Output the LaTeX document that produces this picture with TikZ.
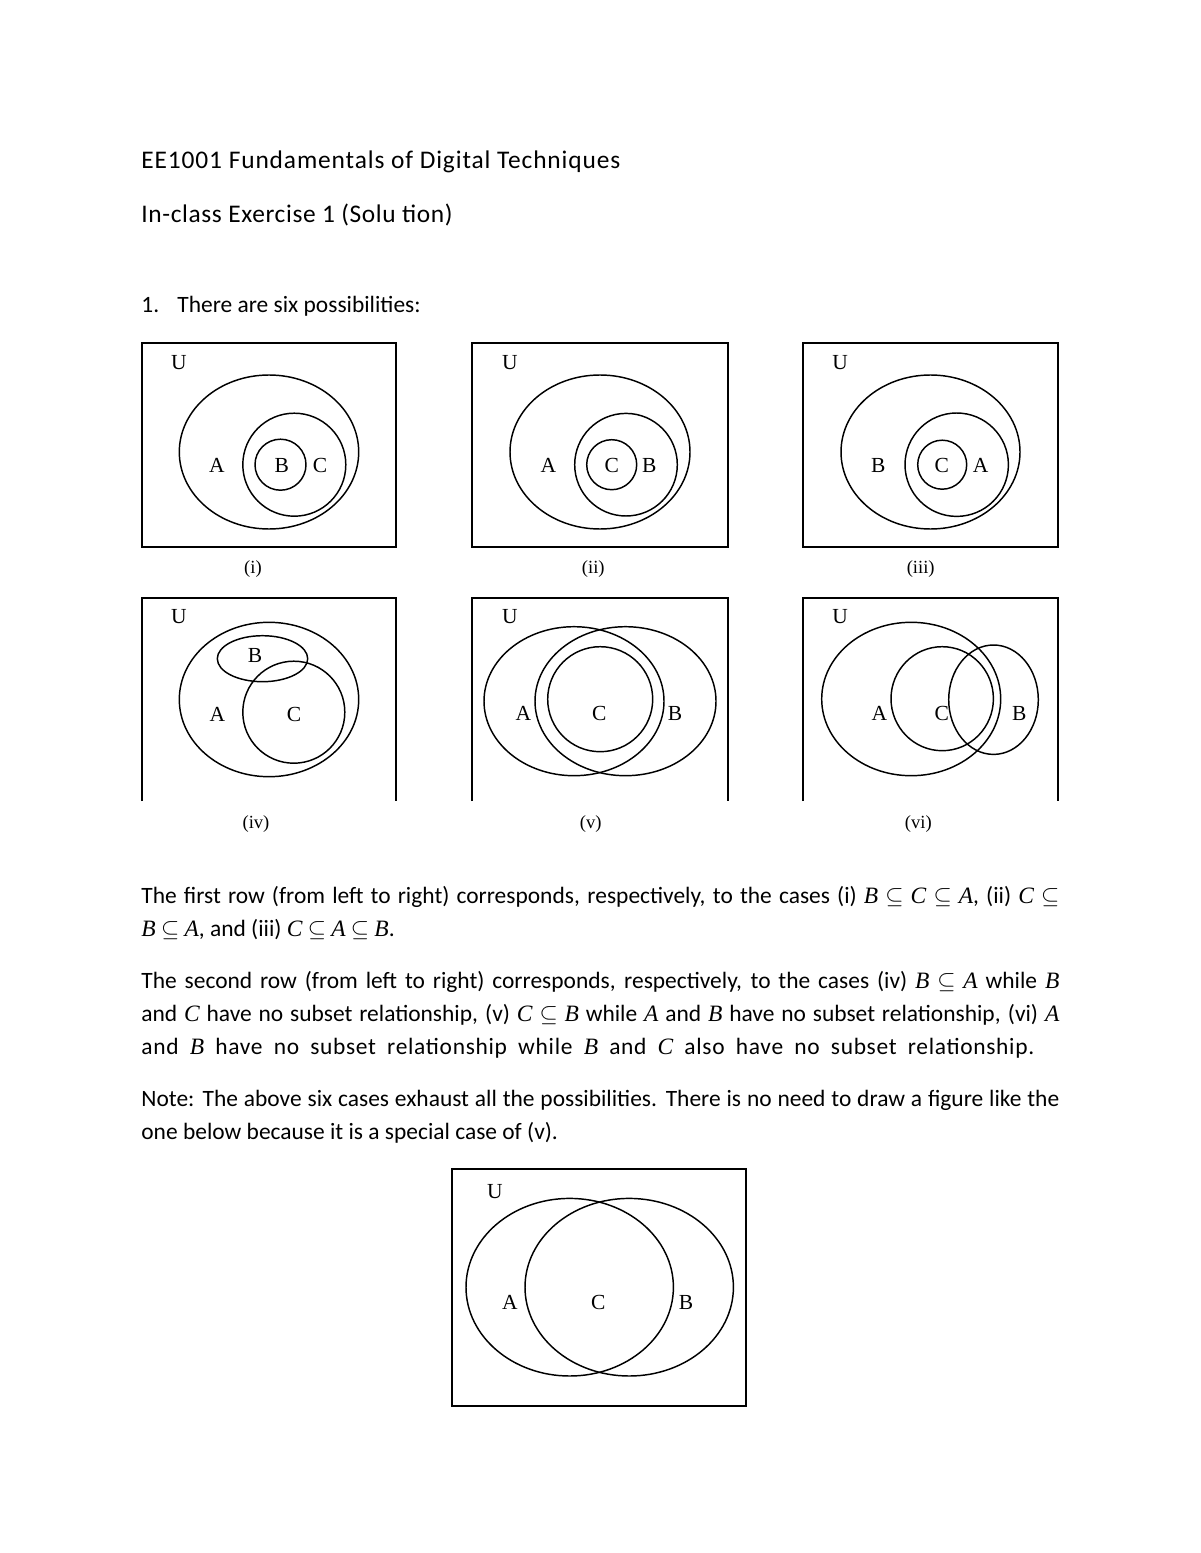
\documentclass[tikz,border=0pt]{standalone}
\usepackage{fontspec}
\setmainfont{Carlito}
\newfontfamily\ttlfont[LetterSpace=3.5]{Carlito}
\newfontfamily\subfont[LetterSpace=2.5]{Carlito}
\newfontfamily\widefont[LetterSpace=3]{Carlito}
\newfontfamily\vfont{Liberation Serif}
\newfontfamily\mfont{Liberation Serif}
\newcommand\mi[1]{{\mfont\itshape #1}}
\newcommand\sbs{$\subseteq$}
\newlength\jw
\setlength\jw{469.9pt}
\newlength\jwb
\setlength\jwb{457.1pt}
\tikzset{
  venn/.style={line width=0.75pt},
  ubox/.style={line width=0.85pt},
  lbl/.style={font=\vfont\fontsize{11}{11}\selectfont, inner sep=0pt},
  capt/.style={font=\vfont\fontsize{9.5}{10}\selectfont, inner sep=0pt},
  ttl/.style={font=\ttlfont\fontsize{13}{15}\selectfont, inner sep=0pt, anchor=base west},
  sttl/.style={font=\subfont\fontsize{13}{15}\selectfont, inner sep=0pt, anchor=base west},
  txt/.style={font=\fontsize{12}{14}\selectfont, inner sep=0pt, anchor=base west},
}
\begin{document}
\begin{tikzpicture}[x=0.5119pt,y=-0.5119pt]
\useasboundingbox (0,0) rectangle (1200,1553);
\fill[white] (0,0) rectangle (1200,1553);

% headings
\node[ttl] (title) at (141,169) {EE1001 Fundamentals of Digital Techniques};
\node[sttl] (sub) at (141,223) {In-class Exercise 1 (Solu tion)};
\node[txt] (q1n) at (141,313) {1.};
\node[txt] (q1) at (177,313) {There are six possibilities:};

% ---------- (i)
\draw[ubox] (141.7,343.3) rectangle (396,547);
\draw[venn] (269,452) ellipse [x radius=89.7, y radius=77];
\draw[venn] (294.3,464.7) circle [radius=51.5];
\draw[venn] (280.5,464.7) circle [radius=25.5];
\node[lbl] (iU) at (179,362.5) {U};
\node[lbl] (iA) at (217,465) {A};
\node[lbl] (iB) at (281.7,465) {B};
\node[lbl] (iC) at (320,465) {C};
\node[capt] (icap) at (253,569) {(i)};

% ---------- (ii)
\draw[ubox] (471.7,343.3) rectangle (728.3,547);
\draw[venn] (600,452) ellipse [x radius=90, y radius=77];
\draw[venn] (626,464.7) circle [radius=51.3];
\draw[venn] (611.7,464.7) circle [radius=25];
\node[lbl] (iiU) at (510,362.5) {U};
\node[lbl] (iiA) at (548.3,465) {A};
\node[lbl] (iiC) at (611.7,465) {C};
\node[lbl] (iiB) at (649.3,465) {B};
\node[capt] (iicap) at (593.3,569) {(ii)};

% ---------- (iii)
\draw[ubox] (803.3,343.3) rectangle (1058.3,547);
\draw[venn] (930.5,452) ellipse [x radius=89.5, y radius=77];
\draw[venn] (956.7,464.7) circle [radius=51.7];
\draw[venn] (942.2,464.7) circle [radius=24.5];
\node[lbl] (iiiU) at (840,362.5) {U};
\node[lbl] (iiiB) at (878.3,465) {B};
\node[lbl] (iiiC) at (941.7,465) {C};
\node[lbl] (iiiA) at (980.7,465) {A};
\node[capt] (iiicap) at (920.7,569) {(iii)};

% ---------- (iv)
\draw[ubox] (141.7,801) -- (141.7,597.7) -- (396,597.7) -- (396,801);
\draw[venn] (269,699.5) ellipse [x radius=89.7, y radius=77.2];
\draw[venn] (262.5,658.7) ellipse [x radius=45.2, y radius=23];
\draw[venn] (293.8,712.2) circle [radius=51];
\node[lbl] (ivU) at (179,616.7) {U};
\node[lbl] (ivB) at (255,655) {B};
\node[lbl] (ivA) at (217.3,714.3) {A};
\node[lbl] (ivC) at (294,714.3) {C};
\node[capt] (ivcap) at (256,824.3) {(iv)};

% ---------- (v)
\draw[ubox] (471.7,801) -- (471.7,597.7) -- (727.7,597.7) -- (727.7,801);
\draw[venn] (574,701.2) ellipse [x radius=90, y radius=74.5];
\draw[venn] (625.5,701.2) ellipse [x radius=90.5, y radius=74.5];
\draw[venn] (600.2,699.2) circle [radius=52.5];
\node[lbl] (vU) at (510,616.7) {U};
\node[lbl] (vA) at (523.3,713.3) {A};
\node[lbl] (vC) at (599.3,713.3) {C};
\node[lbl] (vB) at (675,713.3) {B};
\node[capt] (vcap) at (590.7,824.3) {(v)};

% ---------- (vi)
\draw[ubox] (803.3,801) -- (803.3,597.7) -- (1058.3,597.7) -- (1058.3,801);
\draw[venn] (911.2,699) ellipse [x radius=89.5, y radius=76.7];
\draw[venn] (942.2,698.7) ellipse [x radius=51.2, y radius=52];
\draw[venn] (993.5,699.7) ellipse [x radius=44.8, y radius=54.7];
\node[lbl] (viU) at (840,616.7) {U};
\node[lbl] (viA) at (879.3,713.3) {A};
\node[lbl] (viC) at (941.7,713.3) {C};
\node[lbl] (viB) at (1019.3,713.3) {B};
\node[capt] (vicap) at (918.3,824.3) {(vi)};

% ---------- paragraphs
\node[txt] (p1a) at (141,903) {\makebox[\jw][s]{The first row (from left to right) corresponds, respectively, to the cases (i) \mi{B} \sbs{} \mi{C} \sbs{} \mi{A}, (ii) \mi{C} \sbs}};
\node[txt] (p1b) at (141,936) {\mi{B} \sbs{} \mi{A}, and (iii) \mi{C} \sbs{} \mi{A} \sbs{} \mi{B}.};

\node[txt] (p2a) at (141,988) {\makebox[\jw][s]{The second row (from left to right) corresponds, respectively, to the cases (iv) \mi{B} \sbs{} \mi{A} while \mi{B}}};
\node[txt] (p2b) at (141,1021) {\makebox[\jw][s]{and \mi{C} have no subset relationship, (v) \mi{C} \sbs{} \mi{B} while \mi{A} and \mi{B} have no subset relationship, (vi) \mi{A}}};
\node[txt] (p2c) at (141,1054) {\widefont\makebox[\jwb][s]{and \mi{B} have no subset relationship while \mi{B} and \mi{C} also have no subset relationship.}};

\node[txt] (p3a) at (141,1106) {\makebox[\jw][s]{Note: The above six cases exhaust all the possibilities. There is no need to draw a figure like the}};
\node[txt] (p3b) at (141,1139) {one below because it is a special case of (v).};

% ---------- bottom figure
\draw[ubox] (452.3,1169.3) rectangle (746,1406);
\draw[venn] (569.7,1287.2) ellipse [x radius=103.7, y radius=88.8];
\draw[venn] (629.2,1287.2) ellipse [x radius=104.2, y radius=88.8];
\node[lbl] (bU) at (495,1191.7) {U};
\node[lbl] (bA) at (510,1302.7) {A};
\node[lbl] (bC) at (598.3,1302.7) {C};
\node[lbl] (bB) at (686,1302.7) {B};
\end{tikzpicture}
\end{document}
